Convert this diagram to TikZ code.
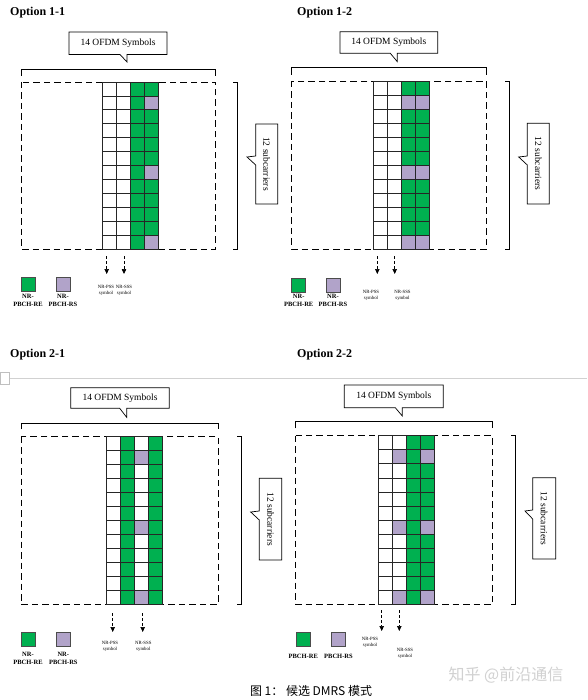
\documentclass[tikz,border=0pt]{standalone}
\usepackage{fontspec}
\setmainfont{Liberation Serif}
\newfontfamily\cjk{Noto Sans CJK SC}
\usetikzlibrary{arrows.meta}
\definecolor{pgreen}{HTML}{00B050}
\definecolor{ppurple}{HTML}{B1A3C9}
\tikzset{
  cellbox/.style={draw=black!85, line width=0.7pt},
  dashbox/.style={draw=black, line width=0.9pt, dash pattern=on 6.5pt off 4pt},
  bracket/.style={draw=black, line width=0.9pt},
  callout/.style={draw=black, line width=0.7pt, fill=white},
  calltext/.style={font=\fontsize{9.5}{10}\selectfont, inner sep=0pt},
  titletext/.style={font=\fontsize{12}{14}\selectfont\bfseries, anchor=west, inner sep=0pt},
  tinytext/.style={font=\fontsize{4.8}{6}\selectfont, align=center, inner sep=0pt},
  legtext/.style={font=\fontsize{6.5}{8}\selectfont\bfseries, align=center, inner sep=0pt},
  legsq/.style={draw=black!70, line width=0.6pt, minimum width=14pt, minimum height=14pt, inner sep=0pt},
  symarrow/.style={draw=black, line width=0.7pt, dash pattern=on 3pt off 2pt, -{Triangle[length=5pt,width=4.5pt]}},
}
% one column of 12 cells: x, ytop, row height, base colour, colour of rows 2,7,12
\newcommand{\gcol}[5]{%
  \foreach \r in {1,...,12}{%
    \def\fc{#4}%
    \ifnum\r=2 \def\fc{#5}\fi
    \ifnum\r=7 \def\fc{#5}\fi
    \ifnum\r=12 \def\fc{#5}\fi
    \path[cellbox, fill=\fc] (#1,{#2+(\r-1)*#3}) rectangle ++(14,#3);
  }}
% callout above: x1,y1,x2,y2,tipx,tipy
\newcommand{\topcall}[6]{%
  \path[callout] (#1,#2) -- (#3,#2) -- (#3,#4) -- (#5,#4) -- (#5,#6) -- ({#5-7},#4) -- (#1,#4) -- cycle;}
% callout at right: x1,y1,x2,y2,tipx,tipy
\newcommand{\sidecall}[6]{%
  \path[callout] (#1,#2) -- (#3,#2) -- (#3,#4) -- (#1,#4) -- (#1,{#6+8}) -- (#5,#6) -- (#1,{#6-1}) -- cycle;}
\begin{document}
\begin{tikzpicture}[x=1pt,y=-1pt]
\useasboundingbox (0,0) rectangle (587,700);
\fill[white] (0,0) rectangle (587,700);

% separator line and icon
\draw[black!18, line width=0.8pt] (9,378) -- (587,378);
\draw[black!25, line width=0.6pt] (0,372) rectangle (9,384);

%================ Option 1-1
\node[titletext] (t11) at (10,13) {Option 1-1};
\topcall{69}{32}{167}{54.5}{127}{62}
\node[calltext] (c11) at (118,43.2) {14 OFDM Symbols};
\draw[bracket] (21,76) -- (21,69) -- (215,69) -- (215,76);
\draw[dashbox] (21,82) rectangle (215,249);
\gcol{102.3}{82}{13.92}{white}{white}
\gcol{116.3}{82}{13.92}{white}{white}
\gcol{130.3}{82}{13.92}{pgreen}{pgreen}
\gcol{144.3}{82}{13.92}{pgreen}{ppurple}
\draw[bracket] (233,82) -- (237.7,82) -- (237.7,249) -- (233,249);
\sidecall{255.7}{124}{277.7}{204}{247}{157}
\node[calltext, rotate=-90] (s11) at (266.7,164) {12 subcarriers};
\coordinate (a11s) at (106.7,256); \coordinate (a11e) at (106.7,274);
\coordinate (b11s) at (124,256); \coordinate (b11e) at (124,274);
\draw[symarrow] (a11s) -- (a11e);
\draw[symarrow] (b11s) -- (b11e);
\node[tinytext] (p11) at (106,290.5) {NR-PSS\\symbol};
\node[tinytext] (q11) at (124,290.5) {NR-SSS\\symbol};
\node[legsq, fill=pgreen] (g11) at (28,284) {};
\node[legsq, fill=ppurple] (v11) at (63,284) {};
\node[legtext] (lg11) at (28,300) {NR-\\PBCH-RE};
\node[legtext] (lv11) at (63,300) {NR-\\PBCH-RS};

%================ Option 1-2
\node[titletext] (t12) at (297,13) {Option 1-2};
\topcall{340}{31.7}{437.7}{53.3}{397.3}{61.7}
\node[calltext] (c12) at (388.8,42.5) {14 OFDM Symbols};
\draw[bracket] (291,75) -- (291,67.7) -- (486.7,67.7) -- (486.7,75);
\draw[dashbox] (291,81) rectangle (486.7,249);
\gcol{373.3}{81}{14}{white}{white}
\gcol{387.3}{81}{14}{white}{white}
\gcol{401.3}{81}{14}{pgreen}{ppurple}
\gcol{415.3}{81}{14}{pgreen}{ppurple}
\draw[bracket] (505,81) -- (509.3,81) -- (509.3,249) -- (505,249);
\sidecall{527.3}{123.3}{549.3}{204}{518.7}{157}
\node[calltext, rotate=-90] (s12) at (538.3,163.6) {12 subcarriers};
\coordinate (a12s) at (377.3,256); \coordinate (a12e) at (377.3,274);
\coordinate (b12s) at (394.7,256); \coordinate (b12e) at (394.7,274);
\draw[symarrow] (a12s) -- (a12e);
\draw[symarrow] (b12s) -- (b12e);
\node[tinytext] (p12) at (371,295) {NR-PSS\\symbol};
\node[tinytext] (q12) at (402.5,295) {NR-SSS\\symbol};
\node[legsq, fill=pgreen] (g12) at (298.7,285) {};
\node[legsq, fill=ppurple] (v12) at (333,285) {};
\node[legtext] (lg12) at (298.7,300.5) {NR-\\PBCH-RE};
\node[legtext] (lv12) at (333,300.5) {NR-\\PBCH-RS};

%================ Option 2-1
\node[titletext] (t21) at (10,355) {Option 2-1};
\topcall{70.7}{387.7}{169.3}{408.3}{126.7}{417.3}
\node[calltext] (c21) at (120,398) {14 OFDM Symbols};
\draw[bracket] (21,429.3) -- (21,423.3) -- (218.3,423.3) -- (218.3,429.3);
\draw[dashbox] (21,436.7) rectangle (218.3,604.3);
\gcol{106.7}{436.7}{13.97}{white}{white}
\gcol{120.7}{436.7}{13.97}{pgreen}{pgreen}
\gcol{134.7}{436.7}{13.97}{white}{ppurple}
\gcol{148.7}{436.7}{13.97}{pgreen}{pgreen}
\draw[bracket] (237,436.7) -- (241,436.7) -- (241,604.3) -- (237,604.3);
\sidecall{259.3}{478.3}{281.7}{560}{250.7}{512}
\node[calltext, rotate=-90] (s21) at (270.5,519.2) {12 subcarriers};
\coordinate (a21s) at (112.7,613); \coordinate (a21e) at (112.7,632);
\coordinate (b21s) at (142.7,613); \coordinate (b21e) at (142.7,632);
\draw[symarrow] (a21s) -- (a21e);
\draw[symarrow] (b21s) -- (b21e);
\node[tinytext] (p21) at (110,646.7) {NR-PSS\\symbol};
\node[tinytext] (q21) at (143.3,646.7) {NR-SSS\\symbol};
\node[legsq, fill=pgreen] (g21) at (28,639.7) {};
\node[legsq, fill=ppurple] (v21) at (63.3,639.7) {};
\node[legtext] (lg21) at (28,658) {NR-\\PBCH-RE};
\node[legtext] (lv21) at (63.3,658) {NR-\\PBCH-RS};

%================ Option 2-2
\node[titletext] (t22) at (297,355) {Option 2-2};
\topcall{344.3}{385}{443.3}{407.7}{402.3}{416}
\node[calltext] (c22) at (393.8,396.3) {14 OFDM Symbols};
\draw[bracket] (295.7,428.3) -- (295.7,421.7) -- (492.3,421.7) -- (492.3,428.3);
\draw[dashbox] (295.7,435.7) rectangle (492.3,604.3);
\gcol{378.3}{435.7}{14.05}{white}{white}
\gcol{392.3}{435.7}{14.05}{white}{ppurple}
\gcol{406.3}{435.7}{14.05}{pgreen}{pgreen}
\gcol{420.3}{435.7}{14.05}{pgreen}{ppurple}
\draw[bracket] (511,435.7) -- (515.7,435.7) -- (515.7,604.3) -- (511,604.3);
\sidecall{532.7}{477.7}{555.7}{559}{525}{511}
\node[calltext, rotate=-90] (s22) at (544.2,518.3) {12 subcarriers};
\coordinate (a22s) at (381.7,610); \coordinate (a22e) at (381.7,631);
\coordinate (b22s) at (399.3,610); \coordinate (b22e) at (399.3,631);
\draw[symarrow] (a22s) -- (a22e);
\draw[symarrow] (b22s) -- (b22e);
\node[tinytext] (p22) at (370,642.5) {NR-PSS\\symbol};
\node[tinytext] (q22) at (405,653.5) {NR-SSS\\symbol};
\node[legsq, fill=pgreen] (g22) at (302.8,639.7) {};
\node[legsq, fill=ppurple] (v22) at (337.8,639.7) {};
\node[legtext] (lg22) at (303.3,656.7) {PBCH-RE};
\node[legtext] (lv22) at (338.5,656.7) {PBCH-RS};

%================ caption and watermark
\node[font=\cjk\fontsize{12}{14}\selectfont, inner sep=0pt] (cap) at (311,690.5) {图 1： 候选 DMRS 模式};
\node[font=\cjk\fontsize{16}{18}\selectfont, text=black!18, inner sep=0pt] (wm) at (506,675.5) {知乎 @前沿通信};
\end{tikzpicture}
\end{document}
